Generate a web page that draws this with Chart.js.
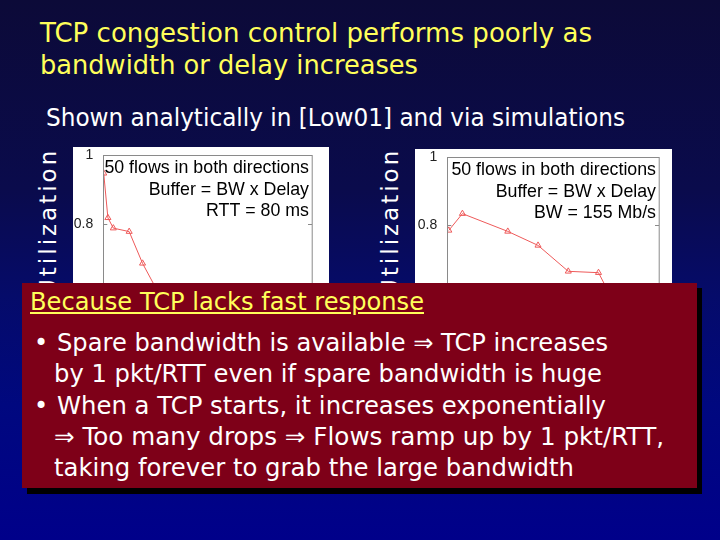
<!DOCTYPE html>
<html>
<head>
<meta charset="utf-8">
<script src="https://cdn.jsdelivr.net/npm/chart.js@4/dist/chart.umd.min.js"></script>
<style>
  html, body { margin: 0; padding: 0; }
  body {
    width: 720px; height: 540px; overflow: hidden; position: relative;
    background: linear-gradient(to bottom, #0c0a38 0%, #0a0b4c 35%, #050b6a 55%, #00087f 75%, #00008a 100%);
    font-family: "DejaVu Sans", sans-serif;
  }
  .txt { position: absolute; white-space: nowrap; transform-origin: 0 50%; line-height: 32px; }
  .title { color: #ffff5a; font-size: 26px; }
  .sub { color: #ffffff; font-size: 24px; }
  .panel { position: absolute; background: #ffffff; }
  .panel canvas { position: absolute; left: 0; top: 0; }
  .ylab {
    position: absolute; color: #ffffff; font-size: 23px; letter-spacing: 3px;
    writing-mode: vertical-rl; transform: rotate(180deg); text-align: end;
    height: 200px; width: 26px; line-height: 26px;
  }
  #shadow { position: absolute; left: 27px; top: 288px; width: 675px; height: 206px; background: #000000; }
  #box { position: absolute; left: 22px; top: 283px; width: 675px; height: 205px; background: #7e0018; }
  .head { color: #ffff5a; font-size: 24px; text-decoration: underline; }
  .body { color: #ffffff; font-size: 24px; }
</style>
</head>
<body>
<div class="txt title" style="left:40px;top:17px" data-w="552">TCP congestion control performs poorly as</div>
<div class="txt title" style="left:40px;top:49px" data-w="378">bandwidth or delay increases</div>
<div class="txt sub" style="left:46px;top:102px" data-w="579">Shown analytically in [Low01] and via simulations</div>

<div class="ylab" style="left:35px;top:148px">Utilization</div>
<div class="ylab" style="left:377px;top:148px">Utilization</div>

<div class="panel" style="left:73px;top:147px;width:256px;height:300px"><canvas id="c1" width="256" height="300"></canvas></div>
<div class="panel" style="left:415px;top:149px;width:257px;height:300px"><canvas id="c2" width="257" height="300"></canvas></div>

<div id="shadow"></div>
<div id="box"></div>
<div class="txt head" style="left:30px;top:286px" data-w="394">Because TCP lacks fast response</div>
<div class="txt body" style="left:34px;top:327px">•</div>
<div class="txt body" style="left:57px;top:327px" data-w="551">Spare bandwidth is available ⇒ TCP increases</div>
<div class="txt body" style="left:54px;top:358px" data-w="548">by 1 pkt/RTT even if spare bandwidth is huge</div>
<div class="txt body" style="left:34px;top:390px">•</div>
<div class="txt body" style="left:57px;top:390px" data-w="549">When a TCP starts, it increases exponentially</div>
<div class="txt body" style="left:54px;top:421px" data-w="610">⇒ Too many drops ⇒ Flows ramp up by 1 pkt/RTT,</div>
<div class="txt body" style="left:54px;top:452px" data-w="520">taking forever to grab the large bandwidth</div>

<script>
// utilization vs bottleneck capacity (RTT = 80 ms)
const capacityMbps = [10, 110, 240, 620, 940, 1500];
const utilCapacity = [0.947, 0.818, 0.788, 0.778, 0.686, 0.56];
// utilization vs round trip delay (BW = 155 Mb/s)
const delayMs = [10, 100, 400, 600, 800, 1000, 1200];
const utilDelay = [0.785, 0.834, 0.782, 0.741, 0.665, 0.661, 0.49];
const yTicks = [0.2, 0.4, 0.6, 0.8, 1];
const noteCapacity = ['50 flows in both directions', 'Buffer = BW x Delay', 'RTT = 80 ms'];
const noteDelay = ['50 flows in both directions', 'Buffer = BW x Delay', 'BW = 155 Mb/s'];

const lineColor = '#ee5a5a';

// squeeze slide text to the widths of the original
document.querySelectorAll('.txt[data-w]').forEach(el => {
    const w = el.getBoundingClientRect().width;
    el.style.transform = 'scaleX(' + (parseFloat(el.dataset.w) / w) + ')';
});

// matlab-style frame, inner ticks and the text note
const framePlugin = {
    id: 'frame',
    afterDraw(chart, args, opts) {
        const ctx = chart.ctx;
        const a = chart.chartArea;
        const y = chart.scales.y;
        ctx.save();
        ctx.strokeStyle = '#8a8a8a';
        ctx.lineWidth = 1;
        ctx.strokeRect(Math.round(a.left) + 0.5, Math.round(a.top) + 0.5, a.right - a.left, a.bottom - a.top);
        ctx.beginPath();
        yTicks.forEach(v => {
            const py = Math.round(y.getPixelForValue(v)) + 0.5;
            ctx.moveTo(a.left, py); ctx.lineTo(a.left + 4, py);
            ctx.moveTo(a.right, py); ctx.lineTo(a.right - 4, py);
        });
        ctx.stroke();
        ctx.fillStyle = '#000000';
        ctx.font = '17.8px "Liberation Sans", Arial, sans-serif';
        ctx.textAlign = 'right';
        ctx.textBaseline = 'middle';
        opts.lines.forEach((t, i) => {
            ctx.fillText(t, a.right - 3, a.top + 13.5 + i * 21.5);
        });
        ctx.restore();
    }
};

function makeChart(id, xs, ys, xMax, axisWidth, padding, note) {
    return new Chart(document.getElementById(id), {
        type: 'line',
        data: {
            datasets: [{
                data: xs.map((x, i) => ({ x: x, y: ys[i] })),
                borderColor: lineColor,
                borderWidth: 1,
                backgroundColor: 'rgba(0,0,0,0)',
                pointStyle: 'triangle',
                pointRadius: 3.5,
                pointBorderColor: lineColor,
                pointBackgroundColor: 'rgba(0,0,0,0)',
                pointBorderWidth: 1,
                tension: 0
            }]
        },
        options: {
            responsive: false,
            animation: false,
            devicePixelRatio: 1,
            layout: { padding: padding },
            plugins: { legend: { display: false }, tooltip: { enabled: false }, frame: { lines: note } },
            scales: {
                x: { type: 'linear', min: 0, max: xMax, display: false },
                y: {
                    min: 0.2, max: 1,
                    afterFit: (scale) => {
                        scale.width = axisWidth;
                        scale.paddingTop = 0;
                        scale.paddingBottom = 0;
                    },
                    afterBuildTicks: (scale) => { scale.ticks = yTicks.map(v => ({ value: v })); },
                    grid: { display: false, drawTicks: false },
                    border: { display: false },
                    ticks: {
                        padding: 10,
                        color: '#222222',
                        font: { family: '"Liberation Sans", Arial, sans-serif', size: 14 },
                        callback: (v) => String(Math.round(v * 10) / 10)
                    }
                }
            }
        },
        plugins: [framePlugin]
    });
}

makeChart('c1', capacityMbps, utilCapacity, 5000, 30.3, { top: 8, right: 17, bottom: 16, left: 0 }, noteCapacity);
makeChart('c2', delayMs, utilDelay, 1400, 32.3, { top: 8, right: 13, bottom: 19, left: 0 }, noteDelay);
</script>
</body>
</html>
